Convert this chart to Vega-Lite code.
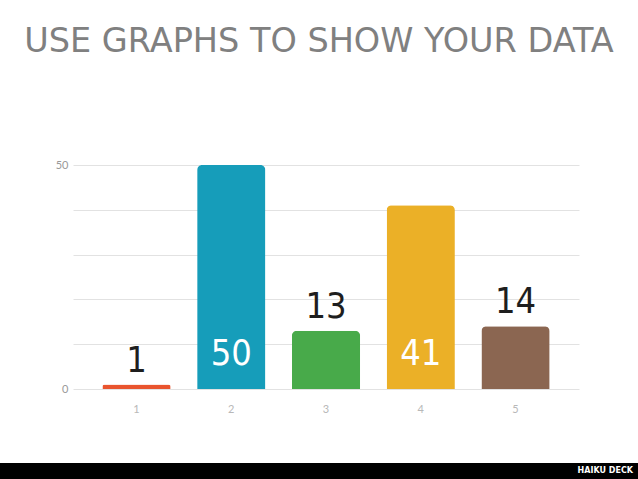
{
  "$schema": "https://vega.github.io/schema/vega-lite/v6.json",
  "width": 638,
  "height": 479,
  "autosize": {"type": "none"},
  "padding": 0,
  "background": "white",
  "config": {"view": {"stroke": null}},
  "title": {
    "text": "USE GRAPHS TO SHOW YOUR DATA",
    "font": "DejaVu Sans",
    "fontSize": 33.5,
    "fontWeight": "normal",
    "color": "#808080",
    "anchor": "middle",
    "frame": "group",
    "offset": -59
  },
  "datasets": {
    "bars": [
      {"item": "1", "value": 1},
      {"item": "2", "value": 50},
      {"item": "3", "value": 13},
      {"item": "4", "value": 41},
      {"item": "5", "value": 14}
    ],
    "brand": [{"brand": "HAIKU DECK"}]
  },
  "layer": [
    {
      "data": {"name": "brand"},
      "mark": {"type": "rect", "color": "#000000"},
      "encoding": {
        "y": {"datum": -16.5, "type": "quantitative"},
        "y2": {"datum": -20.3}
      }
    },
    {
      "data": {"name": "bars"},
      "mark": {"type": "bar", "cornerRadiusTopLeft": 5, "cornerRadiusTopRight": 5},
      "encoding": {
        "x": {
          "field": "item",
          "type": "nominal",
          "scale": {"type": "band", "range": [73, 579], "paddingInner": 0.28, "paddingOuter": 0.31},
          "axis": {
            "orient": "bottom",
            "offset": -90,
            "title": null,
            "domain": false,
            "ticks": false,
            "grid": false,
            "labelAngle": 0,
            "labelPadding": 14,
            "labelFont": "Lato",
            "labelFontSize": 11,
            "labelColor": "#b8b8b8"
          }
        },
        "y": {
          "field": "value",
          "type": "quantitative",
          "scale": {"domain": [0, 50], "range": [389, 165], "nice": false},
          "axis": {
            "orient": "left",
            "offset": -73,
            "title": null,
            "domain": false,
            "ticks": false,
            "values": [0, 10, 20, 30, 40, 50],
            "labelExpr": "datum.value == 0 || datum.value == 50 ? datum.label : ''",
            "grid": true,
            "gridColor": "#e2e2e2",
            "gridWidth": 1,
            "labelPadding": 5,
            "labelFont": "Lato",
            "labelFontSize": 11,
            "labelColor": "#999999"
          }
        },
        "color": {
          "field": "item",
          "type": "nominal",
          "scale": {"domain": ["1", "2", "3", "4", "5"], "range": ["#e9542e", "#169dba", "#48aa4a", "#ebb027", "#8b6651"]},
          "legend": null
        }
      }
    },
    {
      "data": {"name": "bars"},
      "transform": [{"filter": "datum.value < 30"}],
      "mark": {"type": "text", "baseline": "alphabetic", "dy": -13, "font": "DejaVu Sans Condensed, Roboto Condensed, Roboto, sans-serif", "fontWeight": 300, "fontSize": 36, "color": "#1e1e1e"},
      "encoding": {
        "x": {"field": "item", "type": "nominal"},
        "y": {"field": "value", "type": "quantitative"},
        "text": {"field": "value", "type": "quantitative"}
      }
    },
    {
      "data": {"name": "bars"},
      "transform": [{"filter": "datum.value >= 30"}],
      "mark": {"type": "text", "baseline": "alphabetic", "dy": -24, "font": "DejaVu Sans Condensed, Roboto Condensed, Roboto, sans-serif", "fontWeight": 300, "fontSize": 36, "color": "#ffffff"},
      "encoding": {
        "x": {"field": "item", "type": "nominal"},
        "y": {"datum": 0, "type": "quantitative"},
        "text": {"field": "value", "type": "quantitative"}
      }
    },
    {
      "data": {"name": "brand"},
      "mark": {"type": "text", "align": "right", "baseline": "middle", "dx": 314, "font": "DejaVu Sans", "fontWeight": "bold", "fontSize": 8, "color": "#ffffff"},
      "encoding": {
        "y": {"datum": -18.4, "type": "quantitative"},
        "text": {"field": "brand", "type": "nominal"}
      }
    }
  ]
}
